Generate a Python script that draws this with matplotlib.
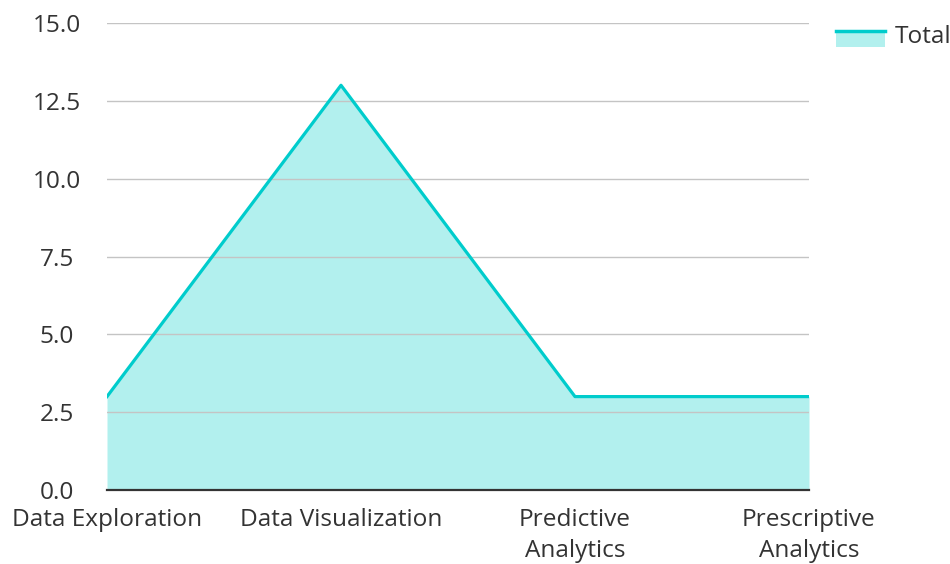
import matplotlib
matplotlib.use('Agg')
import matplotlib.pyplot as plt
from matplotlib.lines import Line2D
from matplotlib.patches import Rectangle
from matplotlib.legend_handler import HandlerBase

categories = ['Data Exploration', 'Data Visualization', 'Predictive\nAnalytics', 'Prescriptive\nAnalytics']
total = [3, 13, 3, 3]
yticks = [0, 2.5, 5, 7.5, 10, 12.5, 15]

LINE = '#00cccc'
FILL = '#b2f0ee'
TEXT = '#333333'

plt.rcParams['font.family'] = ['Open Sans', 'DejaVu Sans']


class AreaHandler(HandlerBase):
    # filled box with the line along its top edge, like the reference legend
    def create_artists(self, legend, orig, xd, yd, width, height, fontsize, trans):
        top = yd + height * 0.75
        bottom = yd - height * 0.2
        rect = Rectangle((xd, bottom), width, top - bottom,
                         facecolor=FILL, edgecolor='none', transform=trans)
        line = Line2D([xd, xd + width], [top, top], color=LINE, lw=2.5, transform=trans)
        return [rect, line]


fig = plt.figure(figsize=(9.5, 5.64), dpi=100)
ax = fig.add_axes([107 / 950, 1 - 490 / 564, (809 - 107) / 950, (490 - 23) / 564])

x = list(range(len(categories)))
ax.fill_between(x, total, 0, color=FILL, lw=0, zorder=1)
ax.plot(x, total, color=LINE, lw=2.3, zorder=3)

ax.set_xlim(0, len(categories) - 1)
ax.set_ylim(0, 15)
ax.set_yticks(yticks)
ax.set_yticklabels([f'{v:.1f}' for v in yticks])
ax.set_xticks(x)
ax.set_xticklabels(categories, linespacing=1.4)
ax.yaxis.grid(True, color='#c4c4c4', lw=1.0, zorder=2)
ax.set_axisbelow(False)
for s in ['top', 'right', 'left']:
    ax.spines[s].set_visible(False)
ax.spines['bottom'].set_color(TEXT)
ax.spines['bottom'].set_linewidth(1.6)
ax.spines['bottom'].set_zorder(4)
ax.tick_params(length=0, labelsize=17.6, colors=TEXT)
ax.tick_params(axis='x', pad=13)
for lbl in ax.get_yticklabels():
    lbl.set_horizontalalignment('center')
ax.tick_params(axis='y', pad=36)

ax.legend([object()], ['Total'], handler_map={object: AreaHandler()},
          loc='upper left', bbox_to_anchor=(1.007, 1.042), frameon=False,
          fontsize=17.6, handlelength=2.0, handletextpad=0.4, labelcolor=TEXT)

fig.savefig('out.png', dpi=100)
